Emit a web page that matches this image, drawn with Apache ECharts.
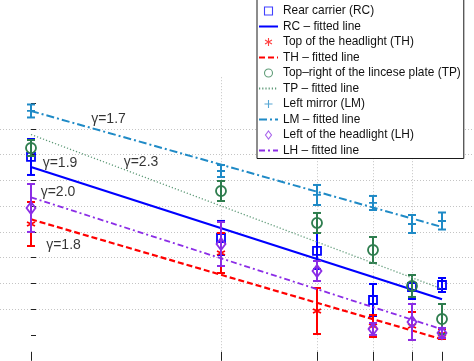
<!DOCTYPE html>
<html><head><meta charset="utf-8">
<script src="https://cdn.jsdelivr.net/npm/echarts@6/dist/echarts.min.js"></script>
<style>html,body{margin:0;padding:0;background:#fff;overflow:hidden}#c{width:474px;height:361px}</style>
</head><body><div id="c"></div>
<script>
// x: log-distance positions of the measurement points
const xPos = [0, 0.475, 0.715, 0.855, 0.9525, 1.0275];
// measured means and error half-widths (dB)
const rcMean = [-35.47, -51.18, -53.70, -63.21, -60.69, -60.30];
const rcErr  = [3.49, 3.30, 3.49, 3.10, 2.33, 1.36];
const thMean = [-48.47, -54.09, -65.34, -68.25, -68.25, -69.80];
const thErr  = [4.27, 3.88, 4.46, 2.13, 2.72, 0.97];
const tpMean = [-33.73, -42.07, -48.27, -53.51, -60.49, -66.89];
const tpErr  = [1.55, 1.94, 1.94, 2.52, 2.13, 2.91];
const lmMean = [-26.55, -38.19, -42.84, -44.39, -48.47, -47.89];
const lmErr  = [1.26, 1.16, 1.94, 1.36, 1.75, 1.65];
const lhMean = [-45.36, -52.35, -57.58, -68.83, -67.47, -69.61];
const lhErr  = [4.65, 4.27, 1.94, 1.16, 3.49, 0.97];
// fitted lines (end points)
const fitX  = [0, 1.0275];
const rcFit = [-37.41, -63.07];
const thFit = [-47.56, -70.83];
const tpFit = [-31.11, -61.07];
const lmFit = [-26.55, -49.05];
const lhFit = [-43.29, -68.89];
// path-loss exponent annotations
const gammaText = ['γ=1.7', 'γ=2.3', 'γ=1.9', 'γ=2.0', 'γ=1.8'];
const gammaX = [0.19375, 0.275, 0.0725, 0.0675, 0.08125];
const gammaY = [-28.10, -36.44, -36.64, -42.26, -52.54];
const yTicks = [-70, -65, -60, -55, -50, -45, -40, -35, -30, -25];

const C = {rc:'#0000ff', th:'#ff0000', tp:'#2e7d4e', tpLine:'#5f9a78', lm:'#1f8ac6', lh:'#8b2de6'};
const FONT = 'Liberation Sans, Arial, Helvetica, sans-serif';
const SYM = {
  rect: 'path://M-4,-4L4,-4L4,4L-4,4Z',
  star: 'path://M0,-6L0,6M-5.2,-3L5.2,3M-5.2,3L5.2,-3',
  circle: 'circle',
  plus: 'path://M0,-5L0,5M-5,0L5,0',
  diamond: 'path://M0,-6L4.5,0L0,6L-4.5,0Z'
};

function errSeries(name, mean, err, color, z) {
  return {
    name: name, type: 'custom', z: z, silent: true,
    data: xPos.map((x, i) => [x, mean[i] - err[i], mean[i] + err[i]]),
    encode: {x: 0, y: [1, 2]},
    renderItem: function (params, api) {
      const x = api.value(0);
      const pLo = api.coord([x, api.value(1)]);
      const pHi = api.coord([x, api.value(2)]);
      const w = 4;
      const style = {stroke: color, lineWidth: 2, fill: null};
      return {type: 'group', children: [
        {type: 'line', shape: {x1: pLo[0], y1: pLo[1], x2: pHi[0], y2: pHi[1]}, style: style},
        {type: 'line', shape: {x1: pLo[0] - w, y1: pLo[1], x2: pLo[0] + w, y2: pLo[1]}, style: style},
        {type: 'line', shape: {x1: pHi[0] - w, y1: pHi[1], x2: pHi[0] + w, y2: pHi[1]}, style: style}
      ]};
    }
  };
}
function markSeries(name, mean, color, symbol, size, z) {
  return {
    name: name, type: 'scatter', z: z, symbol: symbol, symbolSize: size, silent: true,
    data: xPos.map((x, i) => [x, mean[i]]),
    itemStyle: {color: 'rgba(255,255,255,0)', borderColor: color, borderWidth: 1.8, opacity: 1}
  };
}
function fitSeries(name, vals, color, type, width, z) {
  return {
    name: name, type: 'line', z: z, symbol: 'none', silent: true,
    data: fitX.map((x, i) => [x, vals[i]]),
    lineStyle: {color: color, type: type, width: width},
    itemStyle: {color: color}
  };
}

const names = ['Rear carrier (RC)', 'RC – fitted line', 'Top of the headlight (TH)', 'TH – fitted line',
  'Top–right of the lincese plate (TP)', 'TP – fitted line', 'Left mirror (LM)', 'LM – fitted line',
  'Left of the headlight (LH)', 'LH – fitted line'];
const legendIcons = [SYM.rect, null, SYM.star, null, SYM.circle, null, SYM.plus, null, SYM.diamond, null];

const series = [
  errSeries('rcErr', rcMean, rcErr, C.rc, 2),
  markSeries(names[0], rcMean, C.rc, 'rect', 8, 3),
  fitSeries(names[1], rcFit, C.rc, 'solid', 2.2, 3),
  errSeries('thErr', thMean, thErr, C.th, 4),
  markSeries(names[2], thMean, C.th, SYM.star, 8, 5),
  fitSeries(names[3], thFit, C.th, [6, 3], 2.2, 5),
  errSeries('tpErr', tpMean, tpErr, C.tp, 6),
  markSeries(names[4], tpMean, C.tp, 'circle', 10, 7),
  fitSeries(names[5], tpFit, C.tpLine, [1.2, 2], 1.3, 7),
  errSeries('lmErr', lmMean, lmErr, C.lm, 8),
  markSeries(names[6], lmMean, C.lm, SYM.plus, 8, 9),
  fitSeries(names[7], lmFit, C.lm, [8, 3, 2, 3], 2, 9),
  errSeries('lhErr', lhMean, lhErr, C.lh, 10),
  markSeries(names[8], lhMean, C.lh, 'diamond', [9, 12], 11),
  fitSeries(names[9], lhFit, C.lh, [6, 3, 2, 3], 1.8, 11),
  {
    name: 'gamma', type: 'scatter', symbolSize: 0, z: 12, silent: true,
    data: gammaX.map((x, i) => ({name: gammaText[i], value: [x, gammaY[i]]})),
    label: {show: true, position: 'inside', formatter: '{b}', color: '#000',
      fontFamily: FONT, fontSize: 14, align: 'center', verticalAlign: 'middle'}
  }
];

const legendData = names.map((n, i) => i % 2 === 1
  ? {name: n, itemStyle: {opacity: 0}}
  : {name: n, icon: legendIcons[i], itemStyle: {borderWidth: 1.1, opacity: 0.75}});

const chart = echarts.init(document.getElementById('c'), null, {renderer: 'canvas'});
chart.setOption({
  animation: false,
  backgroundColor: '#fff',
  grid: {left: 0, right: 0, top: 77.2, bottom: 0.2},
  xAxis: {
    type: 'value', min: -0.0775, max: 1.1075,
    axisLine: {show: false},
    axisTick: {show: true, inside: true, length: 9, customValues: xPos, lineStyle: {color: '#222', width: 1}},
    axisLabel: {show: false},
    splitLine: {show: true, showMinLine: false, showMaxLine: false, lineStyle: {color: '#c4c4c4', type: [1, 2], width: 1}}
  },
  yAxis: {
    type: 'value', min: -75, max: -20, interval: 5,
    axisLine: {show: false},
    axisTick: {show: true, inside: true, length: 5, customValues: yTicks, lineStyle: {color: '#222', width: 1}},
    axisLabel: {show: false},
    splitLine: {show: true, showMinLine: false, showMaxLine: false, lineStyle: {color: '#c4c4c4', type: [1, 2], width: 1}}
  },
  legend: {
    orient: 'vertical', left: 257, top: -1,
    padding: [6, 3, 2, 1], itemWidth: 19, itemHeight: 8, itemGap: 3.5,
    symbolKeepAspect: true,
    backgroundColor: '#fff', borderColor: '#1a1a1a', borderWidth: 1,
    selectedMode: false,
    textStyle: {fontFamily: FONT, fontSize: 11.9, color: '#111'},
    data: legendData
  },
  series: series
});
</script>
</body></html>
